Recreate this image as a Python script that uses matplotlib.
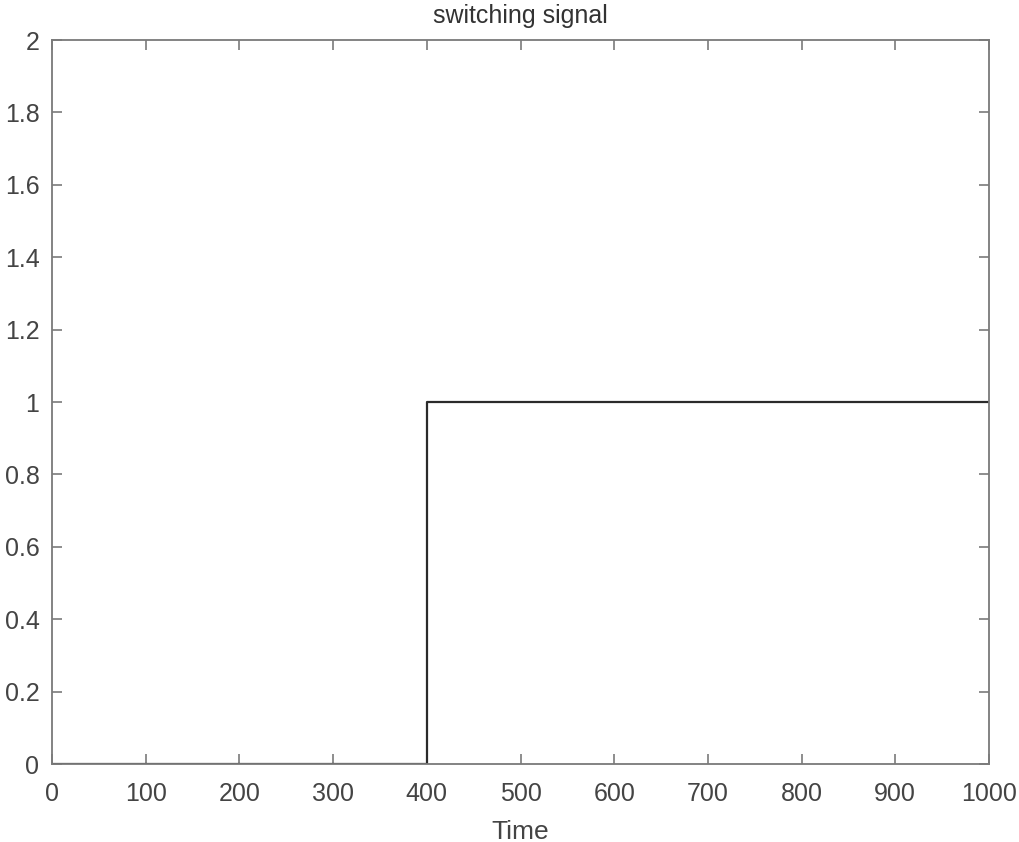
import numpy as np
import matplotlib
matplotlib.use("Agg")
import matplotlib.pyplot as plt

# switching signal: off until t=400, then on
switch_times = [0, 400, 400, 1000]
switch_values = [0, 0, 1, 1]

x_ticks = list(range(0, 1001, 100))
y_ticks = [0, 0.2, 0.4, 0.6, 0.8, 1, 1.2, 1.4, 1.6, 1.8, 2]

plt.rcParams['font.family'] = ['Liberation Sans', 'DejaVu Sans']

fig = plt.figure(figsize=(10.2, 8.42), dpi=100)
ax = fig.add_axes([52 / 1020, 1 - 764 / 842, (989 - 52) / 1020, (764 - 40) / 842])

ax.plot(switch_times, switch_values, color='#2b2b2b', lw=1.6)

ax.set_xlim(0, 1000)
ax.set_ylim(0, 2)
ax.set_xticks(x_ticks)
ax.set_yticks(y_ticks)
ax.set_yticklabels([f"{v:g}" for v in y_ticks])

for s in ax.spines.values():
    s.set_color('#7a7a7a')
    s.set_linewidth(1.3)
ax.tick_params(direction='in', top=True, right=True, length=7, width=1.2,
               color='#7a7a7a', labelcolor='#444444', labelsize=18)
ax.tick_params(axis='x', pad=13)
ax.tick_params(axis='y', pad=9)

ax.set_title("switching signal", fontsize=18, color='#333333', pad=12)
ax.set_xlabel("Time", fontsize=19, color='#444444', labelpad=10)

fig.savefig("out.png", dpi=100)
